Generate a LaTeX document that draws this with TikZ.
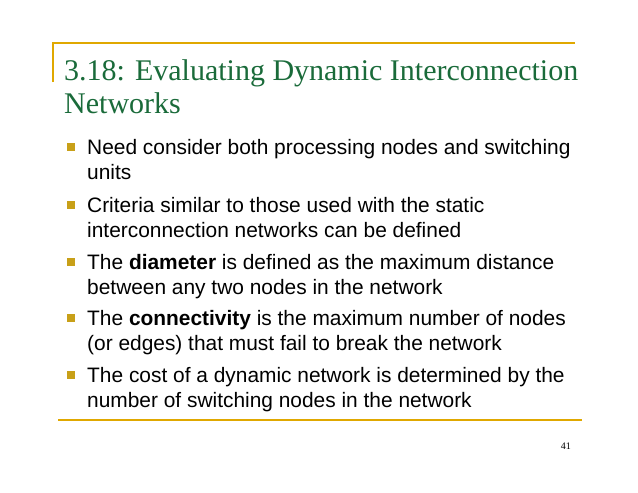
\documentclass[tikz,border=0pt]{standalone}
\usepackage{fontspec}
\setmainfont{Liberation Sans}
\newfontfamily\titlefont{Liberation Serif}
\definecolor{gold}{HTML}{E0A800}
\definecolor{tgreen}{HTML}{1A6B3A}
\definecolor{bul}{HTML}{C8A018}
\begin{document}
\begin{tikzpicture}[x=1pt,y=-1pt,
  title/.style={anchor=base west,inner sep=0,font=\titlefont\fontsize{30}{30}\selectfont,text=tgreen},
  txt/.style={anchor=base west,inner sep=0,font=\fontsize{20.9}{21}\selectfont}]
\useasboundingbox[fill=white] (0,0) rectangle (638,493);
\draw[gold,line width=1.2] (53,82) -- (53,43) -- (575,43);
\draw[gold,line width=1.2] (58,420) -- (582,420);
\node[title] (t1) at (64,80) {3.18: Evaluating Dynamic Interconnection};
\node[title] (t2) at (64,113) {Networks};
\foreach \y in {147,205,262,318,375} \fill[bul] (66.5,\y-4) rectangle (74.5,\y+4);
\node[txt] (l1) at (87,154) {Need consider both processing nodes and switching};
\node[txt] (l2) at (87,179) {units};
\node[txt] (l3) at (87,212) {Criteria similar to those used with the static};
\node[txt] (l4) at (87,237) {interconnection networks can be defined};
\node[txt] (l5) at (87,269) {The \textbf{diameter} is defined as the maximum distance};
\node[txt] (l6) at (87,294) {between any two nodes in the network};
\node[txt] (l7) at (87,325) {The \textbf{connectivity} is the maximum number of nodes};
\node[txt] (l8) at (87,350) {(or edges) that must fail to break the network};
\node[txt] (l9) at (87,382) {The cost of a dynamic network is determined by the};
\node[txt] (l10) at (87,407) {number of switching nodes in the network};
\node[anchor=base east,inner sep=0,font=\titlefont\fontsize{10}{10}\selectfont] (pn) at (571,449) {41};
\end{tikzpicture}
\end{document}
